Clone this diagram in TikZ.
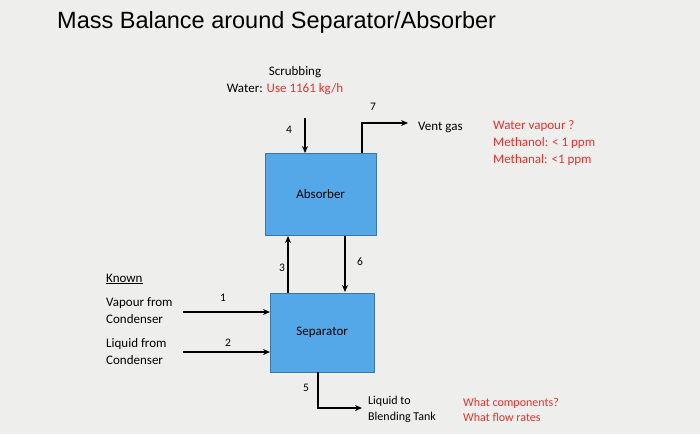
\documentclass[tikz,border=0pt]{standalone}
\usepackage{fontspec}
\setmainfont{Carlito}
\newfontfamily\titlefont{Liberation Sans}
\definecolor{boxblue}{HTML}{55A8E8}
\definecolor{redtxt}{HTML}{E8322A}
\definecolor{bg}{HTML}{EEEEEC}
\usetikzlibrary{arrows.meta}
\begin{document}
\begin{tikzpicture}[x=1pt,y=-1pt,
  lbl/.style={font=\fontsize{13}{15}\selectfont,inner sep=0pt},
  num/.style={font=\fontsize{11.5}{13}\selectfont,inner sep=0pt},
  flow/.style={-{Stealth[length=7pt,width=6pt]},line width=1.2pt}]
\fill[bg] (0,0) rectangle (700,434);
\useasboundingbox (0,0) rectangle (700,434);
\node[anchor=west,font=\titlefont\fontsize{23.5}{26}\selectfont,inner sep=0pt] (title) at (57,22) {Mass Balance around Separator/Absorber};
\node[draw=boxblue!70!black,fill=boxblue,minimum width=111pt,minimum height=82pt,anchor=north west,inner sep=0pt] (abs) at (265,153) {};
\node[lbl] at (abs.center) {Absorber};
\node[draw=boxblue!70!black,fill=boxblue,minimum width=104pt,minimum height=79pt,anchor=north west,inner sep=0pt] (sep) at (270,293) {};
\node[lbl] at (sep.center) {Separator};
\node[lbl] (sw1) at (295,72) {Scrubbing};
\node[lbl] (sw2) at (285,89) {Water: \textcolor{redtxt}{Use 1161 kg/h}};
\coordinate (s4) at (305,118);
\draw[flow] (s4) -- (s4 |- abs.north);
\node[num] at (289,130) {4};
\coordinate (v1) at (362,123);
\node[lbl,anchor=west] (vent) at (418,127) {Vent gas};
\draw[flow] (v1 |- abs.north) -- (v1) -- (408,123);
\node[num] at (373,107) {7};
\node[lbl,anchor=west,text=redtxt,align=left,font=\fontsize{13}{17}\selectfont] (vg) at (493,143) {Water vapour ?\\Methanol: {<} 1 ppm\\Methanal: {<}1 ppm};
\draw[flow] (288,293) -- (288,236);
\node[num] at (282,268) {3};
\draw[flow] (345,236) -- (345,292);
\node[num] at (360,262) {6};
\node[lbl,anchor=west] (known) at (106,279) {\underline{Known}};
\node[lbl,anchor=west,align=left,font=\fontsize{13}{17}\selectfont] (vap) at (106,311) {Vapour from\\Condenser};
\node[lbl,anchor=west,align=left,font=\fontsize{13}{17}\selectfont] (liq) at (106,352) {Liquid from\\Condenser};
\draw[flow] (183,312) -- (sep.west |- 0,312);
\node[num] at (223,298) {1};
\draw[flow] (183,352) -- (sep.west |- 0,352);
\node[num] at (228,343) {2};
\coordinate (l5) at (318,408);
\draw[flow] (l5 |- sep.south) -- (l5) -- (362,408);
\node[num] at (306,388) {5};
\node[lbl,anchor=west,align=left,font=\fontsize{12}{16}\selectfont] (blend) at (368,409) {Liquid to\\Blending Tank};
\node[lbl,anchor=west,align=left,text=redtxt,font=\fontsize{12}{15}\selectfont] (what) at (463,410) {What components?\\What flow rates};
\end{tikzpicture}
\end{document}
